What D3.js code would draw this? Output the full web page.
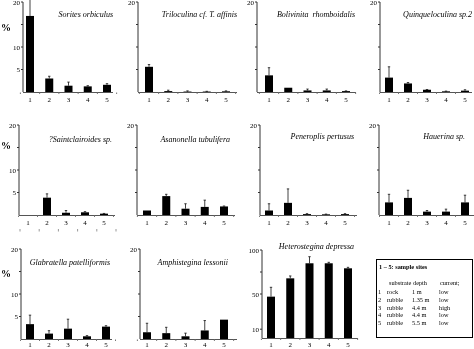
<!DOCTYPE html>
<html>
<head>
<meta charset="utf-8">
<script src="https://cdnjs.cloudflare.com/ajax/libs/d3/7.8.5/d3.min.js"></script>
<style>
  body { margin: 0; background: #fff; }
  svg { display: block; font-family: "Liberation Serif", "DejaVu Serif", serif; filter: grayscale(100%); }
</style>
</head>
<body>
<svg id="chart" width="474" height="349"></svg>
<script>
// sample sites and taxa
const sites = [1, 2, 3, 4, 5];
const taxa = [
  "Sorites orbiculus", "Triloculina cf. T. affinis", "Bolivinita  rhomboidalis", "Quinqueloculina sp.2",
  "?Saintclairoides sp.", "Asanonella tubulifera", "Peneroplis pertusus", "Hauerina sp.",
  "Glabratella patelliformis", "Amphistegina lessonii", "Heterostegina depressa"
];
// mean % per site
const meanValues = [
  [16.9, 3.0, 1.4, 1.25, 1.6],
  [5.6, 0.2, 0.1, 0.1, 0.15],
  [3.7, 0.95, 0.35, 0.35, 0.2],
  [3.2, 1.9, 0.5, 0.15, 0.3],
  [0, 3.85, 0.5, 0.6, 0.3],
  [1.0, 4.2, 1.4, 1.8, 1.9],
  [1.0, 2.7, 0.2, 0.15, 0.2],
  [2.8, 3.8, 0.75, 0.75, 2.8],
  [3.3, 1.2, 2.3, 0.6, 2.75],
  [1.5, 1.3, 0.6, 1.9, 4.3],
  [47, 67.8, 84.9, 84.9, 79.2]
];
// standard deviation (upper error bar)
const errorValues = [
  [4.1, 0.5, 0.8, 0.15, 0.25],
  [0.5, 0.2, 0.15, 0.05, 0.1],
  [1.7, 0, 0.3, 0.3, 0.05],
  [2.4, 0.2, 0.05, 0.05, 0.2],
  [0, 0.85, 0.5, 0.15, 0.05],
  [0, 0.4, 1.1, 1.5, 0.1],
  [1.5, 3.1, 0.1, 0.05, 0.1],
  [1.8, 1.7, 0.25, 0.55, 1.6],
  [2.0, 0.65, 2.1, 0.15, 0.2],
  [2.0, 1.3, 0.7, 2.2, 0],
  [10.6, 2.7, 7.5, 1.1, 1.1]
];
const yMaxes = [20, 20, 20, 20, 20, 20, 20, 20, 20, 20, 100];
const smallTicks = [5, 10, 15, 20];
const smallLabels = [5, 10, 20];
const bigTicks = [10, 50, 75, 100];
const bigLabels = [10, 50, 100];

// legend
const legendTitle = "1 \u2013 5: sample sites";
const legendHeader = ["substrate", "depth", "current;"];
const substrate = ["rock", "rubble", "rubble", "rubble", "rubble"];
const depth = ["1 m", "1.35 m", "4.4 m", "4.4 m", "5.5 m"];
const current = ["low", "low", "high", "low", "low"];

// panel layout (pixels): y-axis x, first/last bar centre, axis end, top, baseline, title end/baseline
const layout = [
  {ax: 23, c1: 30, c5: 107, end: 113, top: 2, base: 92, tx: 113, ty: 17, full: true},
  {ax: 138, c1: 149, c5: 226, end: 237, top: 2, base: 92, tx: 237, ty: 17},
  {ax: 257, c1: 269, c5: 346, end: 356, top: 2, base: 92, tx: 355, ty: 17},
  {ax: 380, c1: 389, c5: 465, end: 472, top: 2, base: 92, tx: 472, ty: 17},
  {ax: 19, c1: 28, c5: 104, end: 115, top: 125, base: 215, tx: 112, ty: 142, full: true},
  {ax: 137, c1: 147, c5: 224, end: 235, top: 125, base: 215, tx: 230, ty: 142},
  {ax: 260, c1: 269, c5: 345, end: 357, top: 125, base: 215, tx: 354, ty: 139},
  {ax: 379, c1: 389, c5: 465, end: 474, top: 125, base: 215, tx: 465, ty: 139},
  {ax: 21, c1: 30, c5: 106, end: 112, top: 249, base: 339, tx: 110, ty: 265, full: true, lab: 8},
  {ax: 140, c1: 147, c5: 224, end: 237, top: 249, base: 339, tx: 228, ty: 265, lab: 8},
  {ax: 262, c1: 271, c5: 348, end: 358, top: 250, base: 338, tx: 354, ty: 249, big: true, lab: 9}
];

const svg = d3.select("#chart");
const barW = 8;

taxa.forEach((name, i) => {
  const L = layout[i];
  const g = svg.append("g");
  const x = d3.scalePoint().domain(sites).range([L.c1, L.c5]);
  const y = d3.scaleLinear().domain([0, yMaxes[i]]).range([L.base, L.top]);
  const step = x.step();

  // y axis
  const ticks = L.big ? bigTicks : smallTicks;
  const labels = L.big ? bigLabels : (L.full ? smallLabels : [20]);
  g.append("line")
    .attr("x1", L.ax).attr("x2", L.ax)
    .attr("y1", L.base).attr("y2", L.top)
    .attr("stroke", "#333").attr("stroke-width", 1);
  g.selectAll(".yt").data(ticks).enter().append("line")
    .attr("x1", L.ax - 2).attr("x2", L.ax)
    .attr("y1", (d) => y(d)).attr("y2", (d) => y(d))
    .attr("stroke", "#333");
  g.selectAll(".yl").data(labels).enter().append("text")
    .attr("x", L.ax - 3)
    .attr("y", (d) => y(d) + 2.5)
    .attr("text-anchor", "end")
    .attr("font-size", 7)
    .text((d) => d);

  // x axis
  g.append("line")
    .attr("x1", L.ax).attr("x2", L.end)
    .attr("y1", L.base + 0.5).attr("y2", L.base + 0.5)
    .attr("stroke", "#555").attr("stroke-width", 1);
  g.selectAll(".xt").data(d3.range(6)).enter().append("line")
    .attr("x1", (d) => L.c1 - step / 2 + d * step)
    .attr("x2", (d) => L.c1 - step / 2 + d * step)
    .attr("y1", L.base + 0.5).attr("y2", L.base + 2)
    .attr("stroke", "#777");
  g.selectAll(".xl").data(sites).enter().append("text")
    .attr("x", (d) => x(d))
    .attr("y", L.base + (L.lab || 10))
    .attr("text-anchor", "middle")
    .attr("font-size", 7)
    .text((d) => d);

  // error bars
  sites.forEach((s, j) => {
    const m = meanValues[i][j], e = errorValues[i][j];
    if (e > 0) {
      g.append("line")
        .attr("x1", x(s)).attr("x2", x(s))
        .attr("y1", y(m)).attr("y2", y(m + e))
        .attr("stroke", "#111").attr("stroke-width", 0.8);
      g.append("line")
        .attr("x1", x(s) - 1.2).attr("x2", x(s) + 1.2)
        .attr("y1", y(m + e)).attr("y2", y(m + e))
        .attr("stroke", "#111").attr("stroke-width", 0.8);
    }
  });

  // bars
  g.selectAll(".bar").data(sites).enter().append("rect")
    .attr("x", (d) => x(d) - barW / 2)
    .attr("width", barW)
    .attr("y", (d, j) => y(meanValues[i][j]))
    .attr("height", (d, j) => L.base - y(meanValues[i][j]))
    .attr("fill", "#000");

  // title
  g.append("text")
    .attr("x", L.tx).attr("y", L.ty)
    .attr("text-anchor", "end")
    .attr("font-size", 8)
    .attr("font-style", "italic")
    .style("white-space", "pre")
    .text(name);
});

// % labels
[27, 145, 273].forEach((cy) => {
  svg.append("text")
    .attr("x", 1).attr("y", cy + 3.5)
    .attr("font-size", 10)
    .attr("font-weight", "bold")
    .text("%");
});

// stray tick row below the ?Saintclairoides panel
const stray = d3.scalePoint().domain(d3.range(6)).range([20, 116]);
svg.selectAll(".stray").data(d3.range(6)).enter().append("line")
  .attr("x1", (d) => stray(d)).attr("x2", (d) => stray(d))
  .attr("y1", 229).attr("y2", 231.5)
  .attr("stroke", "#999");

// legend box
const lg = svg.append("g").attr("font-size", 6.3);
lg.append("rect")
  .attr("x", 376.5).attr("y", 259.5)
  .attr("width", 96).attr("height", 78)
  .attr("fill", "none").attr("stroke", "#000").attr("stroke-width", 1);
lg.append("text")
  .attr("x", 379).attr("y", 269)
  .attr("font-weight", "bold")
  .text(legendTitle);
const colX = [387, 412, 439];
legendHeader.forEach((h, k) => {
  lg.append("text").attr("x", colX[k] + (k === 0 ? 2 : 1)).attr("y", 285).text(h);
});
const rowY = d3.scalePoint().domain(sites).range([294, 325]);
sites.forEach((s, j) => {
  lg.append("text").attr("x", 378).attr("y", rowY(s)).text(s);
  lg.append("text").attr("x", colX[0]).attr("y", rowY(s)).text(substrate[j]);
  lg.append("text").attr("x", colX[1]).attr("y", rowY(s)).text(depth[j]);
  lg.append("text").attr("x", colX[2]).attr("y", rowY(s)).text(current[j]);
});
</script>
</body>
</html>
